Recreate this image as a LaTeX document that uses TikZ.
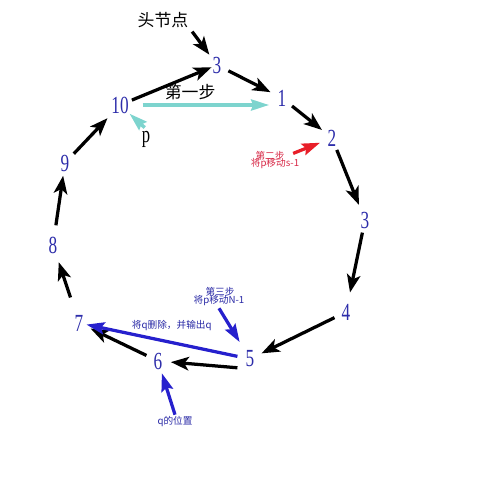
\documentclass[tikz,border=0pt]{standalone}
\usepackage{fontspec}
\usepackage{tikz}
\usetikzlibrary{arrows.meta}
\newfontfamily\cjk{Noto Sans CJK SC}
\newfontfamily\numfont[FakeStretch=0.7]{Liberation Serif}
\definecolor{numblue}{RGB}{45,45,170}
\definecolor{stepcyan}{RGB}{125,212,206}
\definecolor{stepred}{RGB}{232,30,40}
\definecolor{redtext}{RGB}{215,40,70}
\definecolor{stepblue}{RGB}{38,32,205}
\definecolor{bluetext}{RGB}{40,40,165}
\tikzset{
    elem/.style={ % list elements
        circle, inner sep=0pt, minimum size=0.5cm,
        text=numblue, font=\numfont\fontsize{14}{14}\selectfont
    },
    headtext/.style={font=\cjk\fontsize{9.6}{9.6}\selectfont, inner sep=2pt},
    smalltext/.style={font=\cjk\fontsize{5.5}{5.5}\selectfont, inner sep=1pt},
    link/.style={ % black list pointers
        -{Stealth[length=0.36cm,width=0.27cm,inset=0.09cm]},
        line width=0.065cm
    },
    cyanlink/.style={
        -{Stealth[length=0.36cm,width=0.22cm,inset=0.04cm]},
        line width=0.07cm, stepcyan
    },
    redlink/.style={
        -{Stealth[length=0.36cm,width=0.24cm,inset=0.06cm]},
        line width=0.065cm, stepred
    },
    bluelink/.style={
        -{Stealth[length=0.36cm,width=0.24cm,inset=0.06cm]},
        line width=0.065cm, stepblue
    }
}
\begin{document}
\begin{tikzpicture}[x=0.02cm, y=-0.02cm]
        \useasboundingbox (0,0) rectangle (500,500);
        % ring
        \node[elem] (n3a)   at (217,65)     {3};
        \node[elem] (n1)    at (282,98)     {1};
        \node[elem] (n2)    at (332,138)    {2};
        \node[elem] (n3b)   at (365,220)    {3};
        \node[elem] (n4)    at (346,312)    {4};
        \node[elem] (n5)    at (250,359)    {5};
        \node[elem] (n6)    at (158,361)    {6};
        \node[elem] (n7)    at (79,323)     {7};
        \node[elem] (n8)    at (53,245)     {8};
        \node[elem] (n9)    at (65,163)     {9};
        \node[elem] (n10)   at (120,105)    {10};
        % labels
        \node[headtext] (head)  at (163,20)     {头节点};
        \node[font=\numfont\fontsize{13.5}{13.5}\selectfont,
              inner sep=1pt] (p) at (146,139) {p};
        \node[smalltext, text=redtext]  (s2a) at (270,156)   {第二步};
        \node[smalltext, text=redtext]  (s2b) at (275,164)   {将p移动s-1};
        \node[smalltext, text=bluetext] (s3a) at (220,292)   {第三步};
        \node[smalltext, text=bluetext] (s3b) at (219,301)   {将p移动N-1};
        \node[smalltext, text=bluetext] (qpos) at (175,422)  {q的位置};

        \path[link]
                (head.south east) edge              (n3a)
                (n10)   edge[shorten >=-4pt]        (n3a)
                (n3a)   edge                        (n1)
                (n1)    edge                        (n2)
                (n2)    edge[shorten >=2pt]         (n3b)
                (n3b)   edge[shorten >=4pt]         (n4)
                (n4)    edge                        (n5)
                (n5.south west) edge[shorten <=2pt] (n6)
                (n6)    edge                        (n7)
                (n7)    edge[shorten <=8pt,
                             shorten >=3pt]         (n8)
                (n8)    edge[shorten <=4pt]         (n9)
                (n9)    edge[shorten >=3pt]         (n10)
        ;
        \path[cyanlink]
                (n10.east) edge[shorten <=5.5pt]
                    node[headtext, above, pos=.42, text=black] {第一步}
                    (n10.east -| n1.west)
                (p.north) edge[shorten <=1pt]       (n10)
        ;
        \path[redlink]
                (s2a.east) edge[shorten <=4pt]      (n2)
        ;
        \path[bluelink]
                (n5)    edge[shorten >=-3pt]
                    node[smalltext, above=5pt, pos=.45, text=bluetext]
                    {将q删除，并输出q}              (n7)
                (s3b.south) edge[shorten >=4pt]     (n5)
                (qpos.north) edge                   (n6)
        ;
\end{tikzpicture}
\end{document}
